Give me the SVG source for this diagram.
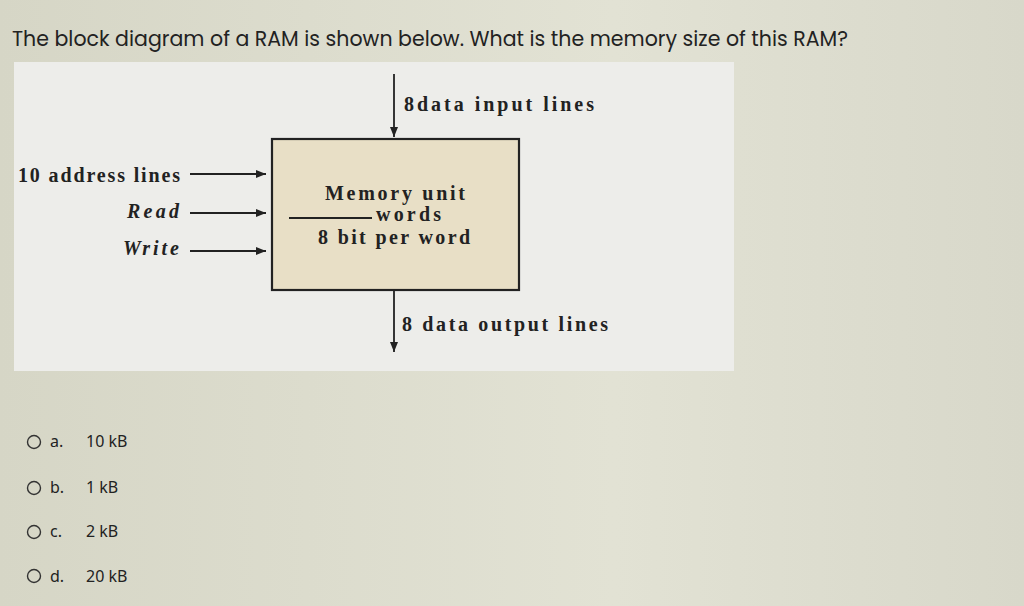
<svg xmlns="http://www.w3.org/2000/svg" width="1024" height="606" viewBox="0 0 1024 606">
<defs>
<marker id="ah" viewBox="0 0 10 10" refX="10" refY="5" markerWidth="12" markerHeight="10" orient="auto" markerUnits="userSpaceOnUse"><path d="M0,1 L10,5 L0,9 z" fill="#222"/></marker>
<linearGradient id="bg" x1="0" y1="0" x2="1" y2="0"><stop offset="0" stop-color="#d6d6c6"/><stop offset="0.6" stop-color="#e2e2d4"/><stop offset="1" stop-color="#d8d8ca"/></linearGradient>
</defs>
<style>
.q{font-family:"Poppins","Noto Sans","Liberation Sans",sans-serif;font-size:20.5px;fill:#222}
.o{font-family:"Noto Sans","Liberation Sans",sans-serif;font-size:16px;fill:#222}
.d{font-family:"Liberation Serif",serif;font-size:20px;font-weight:bold;fill:#222}
.i{font-style:italic}
.c{stroke:#222;stroke-width:1.8;fill:none}
</style>
<rect width="1024" height="606" fill="url(#bg)"/>
<text class="q" x="12" y="46" textLength="836">The block diagram of a RAM is shown below. What is the memory size of this RAM?</text>
<rect x="14" y="62" width="720" height="309" fill="#ededea"/>
<g id="memory"><rect x="272" y="139" width="247" height="151" fill="#e8dfc6" stroke="#222" stroke-width="2.2"/>
<text class="d" x="325" y="200" textLength="140">Memory unit</text>
<line x1="289" y1="218" x2="372" y2="218" class="c"/>
<text class="d" x="376" y="221" textLength="65">words</text>
<text class="d" x="318" y="244" textLength="152">8 bit per word</text></g>
<g id="labels">
<text class="d" x="404" y="111" textLength="190">8data input lines</text>
<text class="d" x="18" y="182" textLength="162">10 address lines</text>
<text class="d i" x="127" y="218" textLength="52">Read</text>
<text class="d i" x="123" y="255" textLength="56">Write</text>
<text class="d" x="402" y="331" textLength="206">8 data output lines</text>
</g>
<g id="connectors">
<line class="c" x1="394" y1="74" x2="394" y2="137" marker-end="url(#ah)"/>
<line class="c" x1="190" y1="174" x2="266" y2="174" marker-end="url(#ah)"/>
<line class="c" x1="190" y1="213" x2="266" y2="213" marker-end="url(#ah)"/>
<line class="c" x1="190" y1="251" x2="266" y2="251" marker-end="url(#ah)"/>
<line class="c" x1="394" y1="291" x2="394" y2="352" marker-end="url(#ah)"/>
</g>
<g id="options">
<circle cx="34" cy="442" r="6.5" fill="none" stroke="#333" stroke-width="1.4"/><text class="o" x="50" y="447">a.</text><text class="o" x="86" y="447">10 kB</text>
<circle cx="34" cy="488" r="6.5" fill="none" stroke="#333" stroke-width="1.4"/><text class="o" x="50" y="493">b.</text><text class="o" x="86" y="493">1 kB</text>
<circle cx="34" cy="532" r="6.5" fill="none" stroke="#333" stroke-width="1.4"/><text class="o" x="50" y="537">c.</text><text class="o" x="86" y="537">2 kB</text>
<circle cx="34" cy="576" r="6.5" fill="none" stroke="#333" stroke-width="1.4"/><text class="o" x="50" y="582">d.</text><text class="o" x="86" y="582">20 kB</text>
</g>
</svg>
